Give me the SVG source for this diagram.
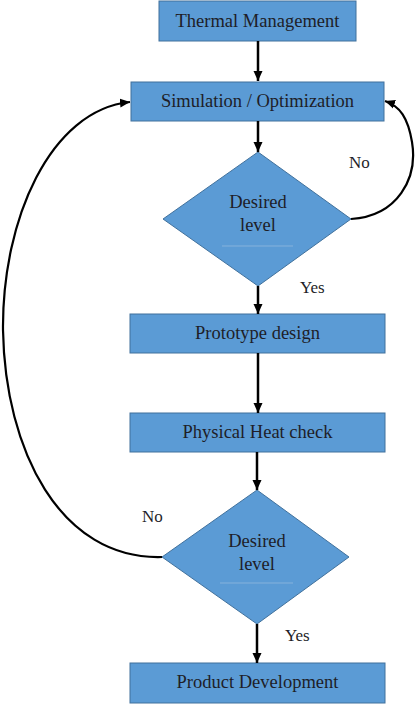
<svg xmlns="http://www.w3.org/2000/svg" width="417" height="705" viewBox="0 0 417 705">
<defs>
<marker id="ah" markerUnits="userSpaceOnUse" markerWidth="10" markerHeight="10" viewBox="0 0 10 10" refX="10" refY="5" orient="auto">
<path d="M0,0.5 L10,5 L0,9.5 Z" fill="#000"/>
</marker>
<style>
.box{fill:#5B9BD5;stroke:#41719C;stroke-width:1}
.lbl{font-size:18.5px;fill:#1e1e28;text-anchor:middle}
.yn{font-size:17px;fill:#1e1e28;text-anchor:start}
.conn{fill:none;stroke:#000;stroke-width:2.5;marker-end:url(#ah)}
.curve{fill:none;stroke:#000;stroke-width:2.2;marker-end:url(#ah)}
.faint{stroke:#86b2dc;stroke-width:1}
</style>
</defs>
<rect width="417" height="705" fill="#fff"/>
<g font-family="Liberation Serif, Times New Roman, serif">
<g id="thermal">
<rect class="box" x="159" y="1" width="197" height="40"/>
<text class="lbl" x="257.5" y="27">Thermal Management</text>
</g>
<g id="simulation">
<rect class="box" x="131" y="82" width="253" height="39"/>
<text class="lbl" x="257.5" y="107">Simulation / Optimization</text>
</g>
<g id="decision1">
<polygon class="box" points="258,152 351,219 258,286 163,219"/>
<line class="faint" x1="222" y1="246" x2="293" y2="246"/>
<text class="lbl" x="258" y="208">Desired</text>
<text class="lbl" x="258" y="231">level</text>
</g>
<g id="prototype">
<rect class="box" x="130" y="314" width="255" height="39"/>
<text class="lbl" x="257.5" y="339">Prototype design</text>
</g>
<g id="physical">
<rect class="box" x="130" y="413" width="255" height="39"/>
<text class="lbl" x="257.5" y="438">Physical Heat check</text>
</g>
<g id="decision2">
<polygon class="box" points="257,490 349,557 257,624 162,557"/>
<line class="faint" x1="220" y1="583" x2="293" y2="583"/>
<text class="lbl" x="257" y="547">Desired</text>
<text class="lbl" x="257" y="570">level</text>
</g>
<g id="product">
<rect class="box" x="130" y="663" width="255" height="40"/>
<text class="lbl" x="257.5" y="688">Product Development</text>
</g>

<g id="connectors">
<line class="conn" x1="258" y1="41" x2="258" y2="81"/>
<line class="conn" x1="258" y1="121" x2="258" y2="152"/>
<line class="conn" x1="258" y1="286" x2="258" y2="314"/>
<line class="conn" x1="258" y1="353" x2="258" y2="413"/>
<line class="conn" x1="257" y1="452" x2="257" y2="490"/>
<line class="conn" x1="257" y1="624" x2="257" y2="663"/>
<path class="curve" d="M351,219 C398,216 418,178 412,142 C408,118 400,106 385,101"/>
<path class="curve" d="M162,557 C60,560 5,450 3,330 C2,220 50,110 130,102"/>
</g>

<g id="labels">
<text class="yn" x="349" y="168">No</text>
<text class="yn" x="300" y="293">Yes</text>
<text class="yn" x="142" y="522">No</text>
<text class="yn" x="285" y="641">Yes</text>
</g>
</g>
</svg>
